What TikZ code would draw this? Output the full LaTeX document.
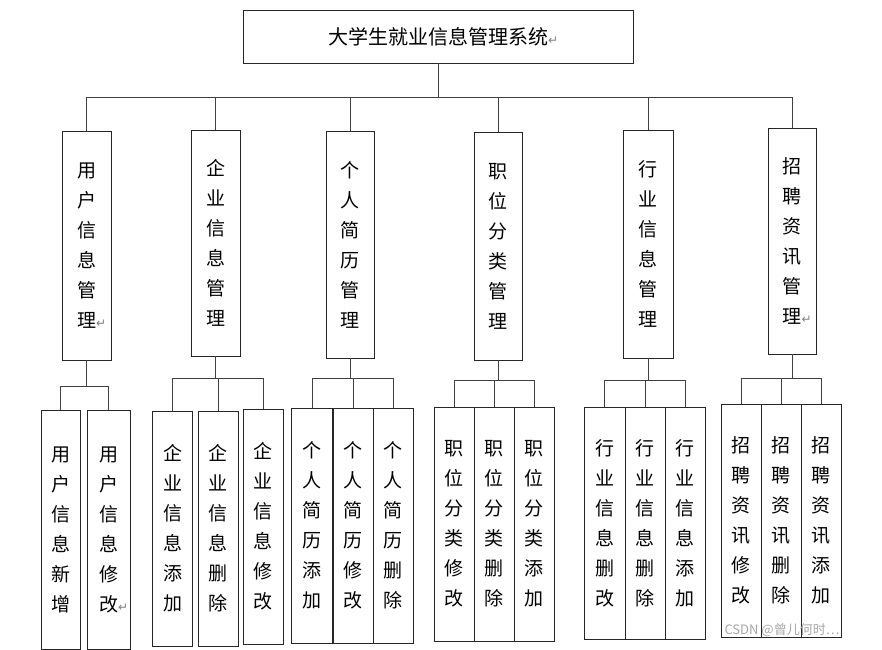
\documentclass[tikz,border=0pt]{standalone}
\usepackage{fontspec}
\setmainfont{Noto Sans CJK SC}
\newfontfamily\symfont{DejaVu Sans}
\newcommand{\retmark}{\rlap{\textcolor{gray}{\symfont\fontsize{12}{12}\selectfont ↵}}}
\begin{document}
\begin{tikzpicture}[x=1pt,y=-1pt,
    box/.style={draw=black!85, line width=0.9pt, inner sep=0pt, align=center,
      font=\fontsize{19}{30}\selectfont},
    link/.style={draw=black!75, line width=0.9pt}]
        \useasboundingbox (0,0) rectangle (882,649);
        % top
        \node[box, minimum width=390, minimum height=53, font=\fontsize{20}{24}\selectfont] (root) at (438,36.5) {大学生就业信息管理系统\retmark};
        % modules
        \node[box, minimum width=49, minimum height=229] (user) at (86.5,245.5) {用\\户\\信\\息\\管\\理\retmark};
        \node[box, minimum width=49, minimum height=226] (firm) at (215.5,243) {企\\业\\信\\息\\管\\理};
        \node[box, minimum width=48, minimum height=227] (resume) at (350,244.5) {个\\人\\简\\历\\管\\理};
        \node[box, minimum width=48, minimum height=228] (job) at (498,246) {职\\位\\分\\类\\管\\理};
        \node[box, minimum width=50, minimum height=228] (trade) at (648,244) {行\\业\\信\\息\\管\\理};
        \node[box, minimum width=48, minimum height=226] (news) at (792,241) {招\\聘\\资\\讯\\管\\理\retmark};
        % leaves
        \node[box, minimum width=39, minimum height=239] (userA) at (60.5,529.5) {用\\户\\信\\息\\新\\增};
        \node[box, minimum width=43, minimum height=239] (userB) at (108.5,529.5) {用\\户\\信\\息\\修\\改\retmark};
        \node[box, minimum width=40, minimum height=235] (firmA) at (172.5,528.5) {企\\业\\信\\息\\添\\加};
        \node[box, minimum width=40, minimum height=235] (firmB) at (218,528.5) {企\\业\\信\\息\\删\\除};
        \node[box, minimum width=40, minimum height=235] (firmC) at (263,526.5) {企\\业\\信\\息\\修\\改};
        \node[box, minimum width=41, minimum height=235] (resumeA) at (312,525.5) {个\\人\\简\\历\\添\\加};
        \node[box, minimum width=40, minimum height=235] (resumeB) at (353,525.5) {个\\人\\简\\历\\修\\改};
        \node[box, minimum width=40, minimum height=235] (resumeC) at (393,525.5) {个\\人\\简\\历\\删\\除};
        \node[box, minimum width=40, minimum height=234] (jobA) at (454,524) {职\\位\\分\\类\\修\\改};
        \node[box, minimum width=40, minimum height=234] (jobB) at (494,524) {职\\位\\分\\类\\删\\除};
        \node[box, minimum width=40, minimum height=234] (jobC) at (534,524) {职\\位\\分\\类\\添\\加};
        \node[box, minimum width=41, minimum height=232] (tradeA) at (604.5,523) {行\\业\\信\\息\\删\\改};
        \node[box, minimum width=40, minimum height=232] (tradeB) at (645,523) {行\\业\\信\\息\\删\\除};
        \node[box, minimum width=40, minimum height=232] (tradeC) at (685,523) {行\\业\\信\\息\\添\\加};
        \node[box, minimum width=40, minimum height=233] (newsA) at (741,520.5) {招\\聘\\资\\讯\\修\\改};
        \node[box, minimum width=40, minimum height=233] (newsB) at (781,520.5) {招\\聘\\资\\讯\\删\\除};
        \node[box, minimum width=40, minimum height=233] (newsC) at (821,520.5) {招\\聘\\资\\讯\\添\\加};
        % buses
        \coordinate (bus) at (0,97);
        \draw[link] (root.south) -- (root.south |- bus);
        \draw[link] (user.north |- bus) -- (news.north |- bus);
        \foreach \m in {user,firm,resume,job,trade,news}
          \draw[link] (\m.north |- bus) -- (\m.north);
        \foreach \m/\y/\kids in {user/386/{userA,userB}, firm/378/{firmA,firmB,firmC},
            resume/378/{resumeA,resumeB,resumeC}, job/380/{jobA,jobB,jobC},
            trade/380/{tradeA,tradeB,tradeC}, news/378/{newsA,newsB,newsC}} {
          \coordinate (sub) at (0,\y);
          \draw[link] (\m.south) -- (\m.south |- sub);
          \foreach \k in \kids
            \draw[link] (\k.north) -- (\k.north |- sub) -- (\m.south |- sub);
        }
        % watermark
        \node[text=black!35, font=\fontsize{13}{13}\selectfont, inner sep=0pt] (mark) at (782,630) {CSDN @曾儿何时…};
\end{tikzpicture}
\end{document}
